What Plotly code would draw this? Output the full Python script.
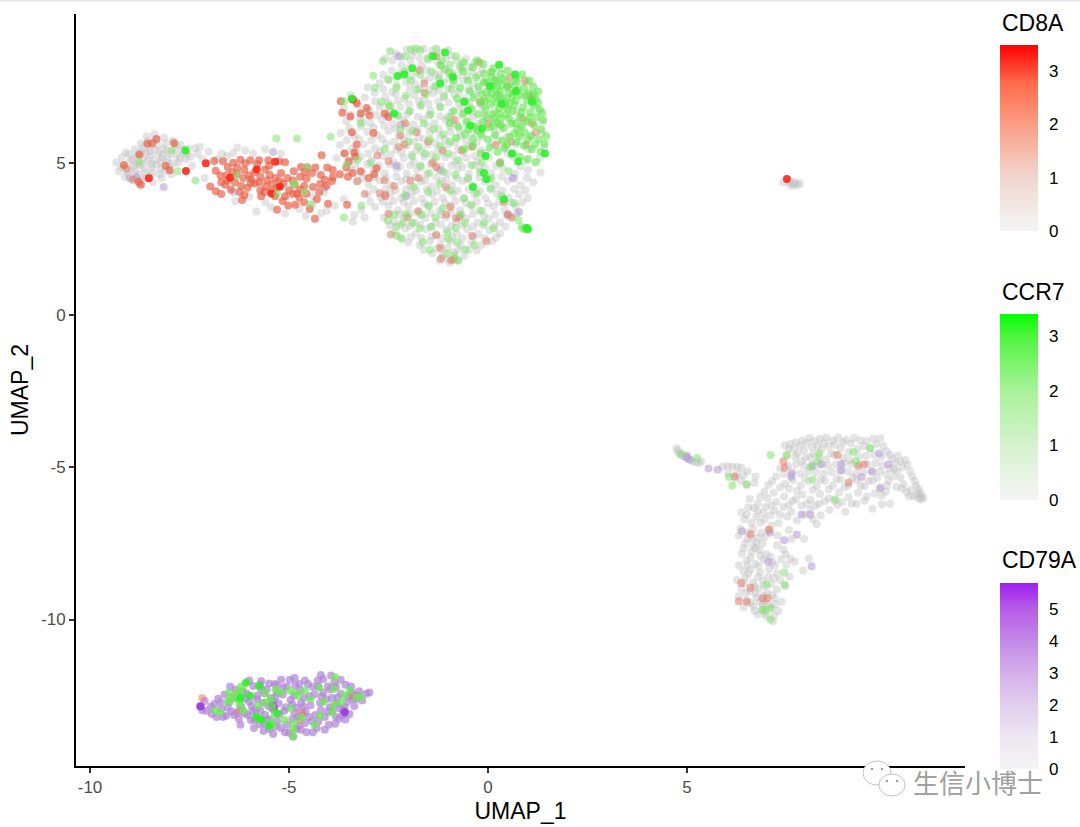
import plotly.graph_objects as go

grey_main = [
(-2.05,8.72),(-1.85,8.66),(-1.62,8.74),(-1.4,8.69),(-1.18,8.62),(-1.0,8.7),
(-2.58,8.42),(-2.4,8.36),(-2.2,8.47),(-1.95,8.33),(-1.72,8.44),(-1.5,8.38),(-1.25,8.3),(-1.05,8.43),(-0.8,8.35),(-0.55,8.41),(-0.33,8.28),
(-2.42,8.02),(-2.2,7.95),(-2.0,8.08),(-1.78,7.98),(-1.55,8.05),(-1.33,7.92),(-1.1,8.03),(-0.9,7.96),(-0.65,8.08),(-0.4,7.98),(-0.15,8.06),(0.1,8.0),(0.35,8.1),
(-2.72,7.62),(-2.5,7.7),(-2.3,7.55),(-2.05,7.66),(-1.83,7.58),(-1.6,7.7),(-1.36,7.52),(-1.12,7.64),(-0.88,7.57),(-0.62,7.7),(-0.38,7.55),(-0.1,7.66),(0.14,7.58),(0.42,7.7),(0.68,7.56),(0.98,7.63),
(-3.45,7.22),(-3.1,7.14),(-2.85,7.3),(-2.58,7.16),(-2.32,7.26),(-2.1,7.1),(-1.86,7.22),(-1.6,7.12),(-1.38,7.28),(-1.12,7.14),(-0.85,7.24),(-0.6,7.1),(-0.34,7.26),(-0.08,7.12),(0.2,7.22),(0.48,7.12),(0.75,7.27),(1.12,7.16),
(-3.62,6.8),(-3.25,6.88),(-2.98,6.72),(-2.72,6.84),(-2.45,6.7),(-2.2,6.82),(-1.95,6.68),(-1.7,6.86),(-1.45,6.72),(-1.2,6.82),(-0.92,6.66),(-0.66,6.8),(-0.4,6.7),(-0.12,6.84),(0.16,6.7),(0.44,6.8),(0.72,6.68),(1.22,6.8),
(-3.56,6.36),(-3.22,6.45),(-2.96,6.3),(-2.68,6.42),(-2.4,6.28),(-2.12,6.4),(-1.88,6.26),(-1.62,6.44),(-1.34,6.3),(-1.06,6.4),(-0.8,6.26),(-0.52,6.38),(-0.24,6.28),(0.04,6.42),(0.32,6.26),(0.62,6.36),(0.9,6.28),(1.38,6.36),
(-3.7,5.98),(-3.36,5.88),(-3.04,6.02),(-2.78,5.9),(-2.5,6.04),(-2.24,5.86),(-1.98,5.98),(-1.74,5.84),(-1.46,6.0),(-1.2,5.88),(-0.94,6.02),(-0.68,5.86),(-0.4,5.98),(-0.14,5.84),(0.16,5.96),(0.46,5.84),(0.78,5.98),(1.1,5.86),(1.36,5.98),
(-3.72,5.58),(-3.42,5.46),(-3.12,5.6),(-2.84,5.48),(-2.56,5.62),(-2.3,5.44),(-2.04,5.56),(-1.8,5.42),(-1.52,5.6),(-1.26,5.46),(-1.0,5.6),(-0.74,5.44),(-0.46,5.56),(-0.18,5.42),(0.1,5.58),(0.4,5.46),(0.7,5.6),(1.02,5.44),(1.42,5.52),
(-3.8,5.16),(-3.5,5.04),(-3.2,5.2),(-2.92,5.08),(-2.64,5.22),(-2.36,5.02),(-2.12,5.16),(-1.86,5.02),(-1.6,5.2),(-1.34,5.04),(-1.08,5.18),(-0.82,5.02),(-0.54,5.16),(-0.26,5.04),(0.02,5.18),(0.32,5.04),(0.62,5.2),(0.94,5.06),(1.3,5.16),
(-3.46,4.78),(-3.16,4.68),(-2.88,4.82),(-2.6,4.66),(-2.3,4.8),(-2.04,4.64),(-1.78,4.78),(-1.54,4.62),(-1.28,4.8),(-1.02,4.66),(-0.76,4.8),(-0.48,4.64),(-0.2,4.78),(0.08,4.66),(0.38,4.8),(0.68,4.64),(1.0,4.76),(1.32,4.68),
(-3.3,4.38),(-3.0,4.28),(-2.72,4.42),(-2.44,4.26),(-2.18,4.4),(-1.94,4.24),(-1.68,4.38),(-1.42,4.22),(-1.16,4.4),(-0.9,4.26),(-0.64,4.4),(-0.36,4.24),(-0.08,4.38),(0.2,4.26),(0.5,4.4),(0.82,4.26),(1.14,4.36),
(-3.02,3.96),(-2.7,3.86),(-2.44,4.0),(-2.18,3.84),(-1.92,3.98),(-1.66,3.82),(-1.4,3.96),(-1.14,3.84),(-0.88,3.98),(-0.62,3.82),(-0.34,3.96),(-0.06,3.84),(0.22,3.98),(0.52,3.84),(0.78,3.96),(1.0,3.84),
(-3.18,3.46),(-2.84,3.55),(-2.5,3.6),(-2.26,3.44),(-2.0,3.58),(-1.74,3.42),(-1.48,3.56),(-1.22,3.42),(-0.96,3.58),(-0.7,3.44),(-0.42,3.56),(-0.14,3.42),(0.14,3.56),(0.42,3.44),(0.7,3.56),
(-2.62,3.2),(-2.36,3.08),(-2.1,3.2),(-1.84,3.04),(-1.58,3.18),(-1.32,3.04),(-1.06,3.2),(-0.8,3.06),(-0.54,3.18),(-0.26,3.04),(0.02,3.16),(0.3,3.05),(0.58,3.2),
(-2.34,2.72),(-2.08,2.84),(-1.82,2.68),(-1.56,2.82),(-1.3,2.66),(-1.04,2.8),(-0.78,2.68),(-0.52,2.82),(-0.24,2.66),(0.04,2.78),(0.3,2.68),
(-2.0,2.38),(-1.72,2.3),(-1.46,2.42),(-1.2,2.3),(-0.94,2.42),(-0.68,2.28),(-0.42,2.4),(-0.16,2.3),(0.1,2.42),
(-1.4,2.02),(-1.14,1.96),(-0.86,2.06),(-0.6,1.94),(-1.22,1.78),(-0.74,1.78),
(7.42,4.36),(7.56,4.32),(7.64,4.24),(7.72,4.36),(7.78,4.26),(7.68,4.3),(7.84,4.32),(7.6,4.4),
# second reading, between the first
(-2.31,8.58),(-2.17,8.21),(-1.91,8.53),(-1.67,8.21),(-1.44,8.51),(-1.16,8.17),(-0.92,8.53),(-0.69,8.22),(-0.47,8.16),
(-2.63,7.88),(-2.31,7.81),(-1.91,7.83),(-1.46,7.79),(-1.22,7.87),(-0.98,7.76),(-0.76,7.87),(-0.52,7.83),(-0.24,7.88),(0.23,7.81),
(-3.02,7.47),(-2.63,7.41),(-2.41,7.33),(-1.97,7.43),(-1.71,7.44),(-1.49,7.39),(-1.24,7.37),(-1.01,7.42),(-0.73,7.33),(-0.49,7.42),(-0.22,7.38),(0.03,7.41),
(-3.31,7.03),(-3.17,6.63),(-2.84,7.02),(-2.51,6.97),(-2.27,7.04),(-1.98,6.92),(-1.74,7.03),(-1.49,6.94),(-1.25,7.01),(-0.99,6.97),(-0.73,6.94),(-0.47,6.98),(-0.21,6.92),
(-3.43,6.58),(-2.81,6.57),(-2.54,6.58),(-2.27,6.53),(-2.03,6.59),(-1.76,6.51),(-1.49,6.57),(-1.2,6.53),(-0.93,6.47),(-0.66,6.54),(-0.38,6.5),(-0.09,6.57),
(-3.49,6.13),(-3.19,6.19),(-2.87,6.16),(-2.61,6.22),(-2.33,6.12),(-2.06,6.19),(-1.77,6.09),(-1.51,6.21),(-1.24,6.11),(-0.97,6.2),(-0.71,6.07),(-0.27,6.11),(0.3,6.1),
(-3.55,5.74),(-3.24,5.78),(-2.93,5.73),(-2.66,5.79),(-2.37,5.69),(-2.11,5.77),(-1.86,5.68),(-1.6,5.78),(-1.33,5.66),(-1.08,5.76),(-0.83,5.66),(-0.56,5.72),(-0.28,5.68),(0.26,5.72),
(-3.62,5.32),(-3.3,5.36),(-3.01,5.31),(-2.71,5.38),(-2.44,5.27),(-2.17,5.34),(-1.93,5.26),(-1.66,5.38),(-1.41,5.26),(-1.14,5.36),(-0.88,5.24),(-0.61,5.34),(-0.33,5.22),(-0.06,5.33),(0.5,5.3),
(-3.34,4.93),(-3.03,4.96),(-2.74,4.9),(-2.47,4.94),(-2.2,4.88),(-1.96,4.92),(-1.68,4.86),(-1.44,4.94),(-1.18,4.88),(-0.92,4.92),(-0.64,4.86),(-0.35,4.92),(-0.07,4.84),(0.2,4.9),(0.82,4.88),
(-3.14,4.49),(-2.85,4.52),(-2.56,4.5),(-2.3,4.54),(-2.06,4.46),(-1.82,4.52),(-1.58,4.42),(-1.3,4.52),(-1.04,4.46),(-0.78,4.5),(-0.5,4.44),(-0.22,4.52),(0.06,4.44),(0.34,4.54),(0.66,4.48),(0.98,4.5),
(-2.86,4.12),(-2.58,4.14),(-2.32,4.1),(-2.06,4.14),(-1.8,4.08),(-1.54,4.12),(-1.28,4.06),(-1.02,4.14),(-0.76,4.08),(-0.48,4.12),(-0.2,4.06),(0.08,4.12),(0.36,4.08),(0.66,4.14),(0.94,4.1),
(-3.36,3.28),(-2.96,3.72),(-2.64,3.72),(-2.38,3.74),(-2.12,3.7),(-1.86,3.74),(-1.6,3.66),(-1.34,3.72),(-1.08,3.68),(-0.82,3.74),(-0.56,3.68),(-0.28,3.72),(0.0,3.66),(0.28,3.72),(0.58,3.68),(0.86,3.7),
(-2.48,3.34),(-2.22,3.3),(-1.96,3.34),(-1.7,3.28),(-1.44,3.34),(-1.18,3.28),(-0.92,3.34),(-0.66,3.3),(-0.38,3.32),(-0.1,3.26),(0.18,3.3),(0.46,3.26),(0.72,3.34),
(-2.46,2.94),(-2.2,2.96),(-1.96,2.92),(-1.7,2.96),(-1.44,2.9),(-1.18,2.96),(-0.92,2.92),(-0.66,2.94),(-0.38,2.9),(-0.12,2.94),(0.16,2.92),(0.44,2.9),
(-2.2,2.56),(-1.94,2.56),(-1.68,2.54),(-1.42,2.58),(-1.16,2.52),(-0.9,2.58),(-0.64,2.52),(-0.36,2.56),(-0.08,2.52),(0.2,2.54),
(-1.62,2.14),(-1.28,2.18),(-1.02,2.2),(-0.74,2.16),(-0.48,2.14),(-0.28,2.12),(-1.0,1.84),(-0.96,1.72),
]
grey_left = [
(-9.34,5.02),(-9.28,4.72),(-9.2,5.18),(-9.14,4.9),(-9.12,4.54),(-9.02,5.28),(-9.0,5.04),(-8.98,4.76),(-8.94,4.44),(-8.88,5.44),(-8.84,5.2),(-8.82,4.96),
(-8.8,4.62),(-8.76,4.3),(-8.72,5.62),(-8.7,5.36),(-8.66,5.1),(-8.64,4.82),(-8.6,4.52),(-8.58,5.86),(-8.54,5.72),(-8.52,5.5),(-8.48,5.24),(-8.46,4.96),
(-8.44,4.68),(-8.42,4.36),(-8.38,5.94),(-8.34,5.76),(-8.3,5.56),(-8.28,5.3),(-8.24,5.04),(-8.22,4.8),(-8.2,4.5),(-8.14,5.82),(-8.1,5.64),(-8.08,5.4),
(-8.04,5.14),(-8.0,4.88),(-7.96,4.62),(-7.92,5.72),(-7.86,5.46),(-7.82,5.24),(-7.78,5.0),(-7.72,5.58),(-7.66,5.32),(-7.6,5.12),(-7.54,5.46),(-7.48,5.2),
(-7.44,4.9),(-7.36,5.48),(-7.3,5.3),(-7.24,5.52),(-7.18,5.12),(-9.1,5.34),(-8.9,4.9),(-8.6,5.3),(-8.4,5.1),(-8.18,5.26),(-8.5,4.58),(-8.7,4.46),
(-7.12,4.5),(-7.02,5.36),(-6.8,5.12),(-6.68,5.3),(-6.4,5.32),(-6.3,5.5),(-6.1,5.4),(-5.6,5.44),(-5.2,5.3),(-5.0,3.9),(-6.0,3.88),(-6.35,3.74),
(-4.74,3.48),(-4.4,3.9),(-4.2,3.34),(-3.62,3.8),(-3.1,3.2),(-3.4,3.06),(-3.14,6.34),(-3.02,6.7),(-4.12,4.02),(-4.42,3.6),(-5.6,3.7),(-5.34,3.96),
(-9.22,4.84),(-9.06,4.68),(-8.94,5.12),(-8.86,4.72),(-8.78,5.3),(-8.74,4.92),(-8.68,5.5),(-8.62,4.68),(-8.56,5.06),(-8.5,5.38),(-8.44,4.84),(-8.36,5.42),
(-8.32,4.94),(-8.26,4.62),(-8.2,5.16),(-8.16,5.46),(-8.12,4.72),(-8.06,5.02),(-7.98,5.3),(-7.9,4.98),(-7.84,5.6),(-7.74,5.16),(-7.68,5.42),(-7.56,5.3),
(-4.05,3.42),(-3.86,3.6),(-5.1,3.34),(-4.58,3.26),(-5.82,3.4),(-5.46,3.54),(-6.55,5.22),(-5.9,5.3),
]
grey_right = [
(4.74,-4.38),(4.76,-4.46),(4.8,-4.54),(4.84,-4.6),(4.9,-4.64),(4.96,-4.68),(5.02,-4.7),(5.08,-4.76),(5.14,-4.8),(5.22,-4.84),(5.3,-4.86),(5.36,-4.8),
(5.9,-4.98),(6.02,-4.96),(6.14,-4.98),(6.26,-4.98),(6.36,-5.02),(6.04,-5.2),(6.26,-5.22),(6.42,-5.26),(6.52,-5.14),(6.2,-5.36),(6.36,-5.44),(6.5,-5.58),
(6.72,-5.3),(6.7,-5.52),(7.46,-4.28),(7.52,-4.62),(7.6,-4.24),(7.68,-4.42),(7.74,-4.18),(7.78,-4.56),(7.84,-4.3),(7.9,-4.12),(7.94,-4.44),(7.98,-4.68),
(8.02,-4.2),(8.08,-4.04),(8.14,-4.34),(8.18,-4.56),(8.22,-4.14),(8.28,-4.3),(8.34,-4.06),(8.38,-4.42),(8.44,-4.2),(8.5,-4.02),(8.56,-4.3),(8.62,-4.54),
(8.66,-4.12),(8.72,-4.26),(8.8,-4.02),(8.86,-4.38),(8.92,-4.18),(9.0,-4.1),(9.06,-4.5),(9.12,-4.22),(9.2,-4.04),(9.28,-4.4),(9.36,-4.12),(9.44,-4.3),
(9.52,-4.14),(9.6,-4.38),(9.68,-4.06),(9.76,-4.24),(9.86,-4.04),(9.94,-4.3),(10.02,-4.48),(10.1,-4.6),(10.16,-4.72),(10.24,-4.86),(10.3,-4.62),(10.36,-4.8),
(10.42,-5.0),(10.48,-4.76),(10.54,-4.92),(10.6,-5.12),(10.66,-5.3),(10.72,-5.46),(10.76,-5.6),(10.82,-5.72),(10.86,-5.84),(10.9,-5.94),(10.94,-6.02),(10.78,-5.88),
(10.7,-5.96),(10.82,-6.02),(10.62,-5.74),(10.52,-5.82),(10.44,-5.56),(10.36,-5.34),(10.28,-5.12),(10.18,-5.3),(10.1,-5.04),(10.0,-5.22),(9.92,-4.94),(9.84,-5.14),
(9.74,-4.86),(9.64,-5.1),(9.54,-4.9),(9.44,-5.16),(9.34,-4.92),(9.24,-5.2),(9.14,-4.9),(9.04,-5.14),(8.94,-4.88),(8.84,-5.12),(8.74,-4.9),(8.64,-5.16),
(8.54,-4.94),(8.44,-5.2),(8.34,-4.92),(8.24,-5.16),(8.14,-4.9),(8.04,-5.14),(7.94,-4.94),(7.84,-5.2),(7.74,-4.9),(7.64,-5.14),(7.54,-4.96),(7.44,-5.22),
(7.34,-5.04),(7.24,-5.3),(7.14,-5.46),(7.04,-5.58),(6.94,-5.8),(7.46,-5.54),(7.66,-5.42),(7.86,-5.6),(8.06,-5.46),(8.26,-5.62),(8.46,-5.44),(8.66,-5.6),
(8.86,-5.4),(9.06,-5.58),(9.26,-5.42),(9.46,-5.62),(9.66,-5.44),(9.86,-5.66),(10.06,-5.44),(10.26,-5.64),(10.0,-5.8),(9.72,-5.86),(9.52,-5.96),(9.3,-5.84),
(9.06,-5.98),(8.82,-5.82),(8.56,-6.02),(8.34,-5.88),(8.1,-6.06),(7.9,-5.9),(7.66,-6.1),(7.44,-5.96),(7.24,-6.14),(7.02,-6.02),(6.78,-6.2),(6.58,-6.04),
(6.54,-6.32),(6.78,-6.44),(6.98,-6.3),(7.2,-6.42),(7.42,-6.3),(7.62,-6.46),(7.88,-6.26),(8.1,-6.4),(8.32,-6.2),(8.58,-6.4),(8.78,-6.24),(8.98,-6.46),
(9.26,-6.2),(9.46,-6.1),(9.66,-6.36),(9.9,-6.22),(10.1,-6.2),(6.36,-6.48),(6.44,-6.7),(6.62,-6.82),(6.74,-6.62),(6.94,-6.72),(7.1,-6.58),(7.3,-6.84),
(7.52,-6.62),(7.76,-6.74),(7.96,-6.56),(8.16,-6.72),(8.36,-6.58),(8.26,-6.86),(6.34,-7.02),(6.52,-7.14),(6.66,-7.02),(6.86,-7.16),(7.04,-7.06),(7.28,-7.24),
(7.56,-7.06),(6.3,-7.24),(6.52,-7.36),(6.78,-7.32),(6.96,-7.28),(7.62,-7.36),(7.94,-7.36),(6.66,-7.58),(6.9,-7.5),(6.42,-7.66),(6.62,-7.78),(6.82,-7.72),
(7.0,-7.86),(7.26,-7.56),(7.42,-7.7),(7.48,-7.86),(7.6,-8.0),(7.36,-8.02),(7.14,-8.12),(6.92,-8.02),(6.72,-8.18),(6.5,-8.06),(6.3,-8.22),(6.42,-8.4),
(6.6,-8.36),(6.84,-8.46),(7.06,-8.34),(7.26,-8.48),(7.5,-8.2),(7.7,-8.1),(7.92,-8.4),(8.06,-8.0),(6.26,-8.7),(6.46,-8.62),(6.66,-8.78),(6.9,-8.72),
(7.12,-8.84),(7.34,-8.7),(7.58,-8.6),(6.36,-8.98),(6.58,-9.06),(6.8,-8.98),(7.02,-9.12),(7.26,-9.02),(7.48,-8.9),(6.3,-9.24),(6.5,-9.36),(6.74,-9.28),
(6.96,-9.4),(7.2,-9.3),(7.38,-9.42),(6.42,-9.6),(6.66,-9.56),(6.88,-9.66),(7.12,-9.6),(7.3,-9.72),(6.78,-9.84),(7.0,-9.9),(7.16,-10.06),(6.9,-9.5),
(7.56,-4.4),(7.72,-4.66),(7.88,-4.8),(8.1,-4.66),(8.32,-4.68),(8.5,-4.74),(8.7,-4.6),(8.92,-4.7),(9.08,-4.76),(9.32,-4.66),(9.5,-4.62),(9.7,-4.6),
(9.88,-4.66),(10.2,-5.06),(10.02,-5.6),(9.78,-5.34),(9.56,-5.44),(9.36,-5.6),(9.16,-5.34),(8.96,-5.66),(8.76,-5.38),(8.56,-5.72),(8.36,-5.4),(8.16,-5.74),
(7.96,-5.36),(7.76,-5.78),(7.56,-5.7),(7.34,-5.66),(7.18,-5.84),(6.84,-5.98),(6.68,-6.34),(6.92,-6.5),(7.12,-6.26),(7.34,-6.56),(7.56,-6.24),(7.74,-6.04),
(8.02,-6.2),(8.22,-6.26),(8.46,-6.12),(8.7,-6.1),(8.9,-6.14),(9.14,-6.2),(9.9,-5.94),(10.4,-5.7),(10.58,-5.96),(10.88,-6.06),(6.5,-6.56),(6.84,-6.82),
(7.12,-6.92),(6.46,-7.5),(6.74,-7.48),(6.6,-7.96),(6.84,-7.9),(7.1,-7.94),(6.52,-8.22),(6.8,-8.24),(7.2,-8.22),(6.54,-8.5),(6.78,-8.6),(7.04,-8.6),
(6.44,-8.82),(6.7,-8.92),(6.94,-8.9),(7.18,-8.64),(6.48,-9.12),(6.72,-9.14),(6.92,-9.22),(7.14,-9.2),(6.6,-9.46),(6.82,-9.42),(7.04,-9.5),(7.22,-9.5),
(6.7,-9.72),(6.96,-9.8),(7.2,-9.86),(6.62,-7.32),(6.72,-7.66),(6.38,-7.84),
]
purple_faint = [
(4.98,-4.66),(5.05,-4.74),(5.54,-5.04),(5.77,-5.08),(7.09,-7.15),(6.38,-7.1),(7.62,-5.32),(7.63,-5.22),(7.44,-7.4),(7.76,-7.22),(7.88,-6.55),(8.1,-6.56),
(9.38,-5.32),(9.65,-5.16),(9.83,-4.54),(10.06,-4.9),(9.85,-5.7),(8.87,-4.9),(8.88,-5.1),(7.04,-8.1),(8.16,-4.96),(8.38,-4.9),(5.0,-4.62),(-8.15,4.2),
(-9.0,4.5),(-8.84,4.52),(-5.4,5.35),(-6.4,4.05),(-4.1,4.18),(-2.25,8.5),(-2.2,6.25),(-1.2,4.75),(0.62,4.5),(0.5,3.3),(0.78,3.38),(-2.05,3.9),(-2.3,4.9),
(8.13,-8.25),
]
purple_cells = [
(-7.24,-12.84),(-7.12,-12.68),(-7.08,-13.0),(-6.94,-13.1),(-6.88,-12.78),(-6.78,-12.6),(-6.7,-12.94),(-6.62,-12.46),(-6.58,-13.16),(-6.5,-12.72),(-6.44,-13.02),(-6.34,-12.3),
(-6.3,-12.56),(-6.26,-13.26),(-6.2,-12.86),(-6.12,-13.08),(-6.06,-12.44),(-6.0,-12.7),(-5.96,-13.3),(-5.9,-12.18),(-5.84,-12.96),(-5.8,-12.5),(-5.74,-13.44),(-5.7,-12.02),
(-5.66,-12.74),(-5.6,-13.14),(-5.56,-12.3),(-5.5,-13.6),(-5.46,-12.58),(-5.42,-12.94),(-5.36,-12.12),(-5.3,-13.34),(-5.26,-12.76),(-5.2,-13.56),(-5.16,-12.46),(-5.12,-13.0),
(-5.06,-12.2),(-5.0,-13.72),(-4.96,-12.64),(-4.92,-13.26),(-4.86,-11.92),(-4.82,-12.9),(-4.76,-13.5),(-4.72,-12.34),(-4.66,-13.1),(-4.62,-12.58),(-4.56,-13.7),(-4.52,-12.12),
(-4.46,-12.82),(-4.42,-13.34),(-4.36,-12.46),(-4.3,-13.56),(-4.26,-12.2),(-4.2,-12.98),(-4.14,-11.96),(-4.1,-13.2),(-4.06,-12.62),(-4.0,-13.46),(-3.96,-12.3),(-3.9,-13.0),
(-3.86,-12.06),(-3.8,-12.76),(-3.74,-13.26),(-3.7,-12.44),(-3.64,-12.96),(-3.58,-12.14),(-3.54,-12.7),(-3.48,-13.1),(-3.42,-12.4),(-3.36,-12.84),(-3.3,-12.6),(-3.24,-12.36),
(-3.16,-12.66),(-3.06,-12.44),(-2.98,-12.4),(-6.82,-13.2),(-6.4,-12.56),(-6.16,-12.36),(-5.94,-12.84),(-5.62,-12.42),(-5.38,-12.7),(-5.14,-12.24),(-4.88,-12.5),(-4.7,-12.74),
(-4.48,-12.52),(-4.22,-12.74),(-4.02,-12.2),(-3.78,-12.56),(-5.72,-13.0),(-5.48,-13.28),(-5.24,-13.1),(-5.04,-13.46),(-4.78,-13.2),(-4.6,-13.4),(-4.34,-13.14),(-4.1,-13.62),
(-3.84,-13.42),(-3.66,-13.14),(-6.04,-13.14),(-6.22,-13.46),(-5.88,-13.56),(-5.64,-13.66),(-5.4,-13.76),(-4.9,-13.84),(-4.4,-13.7),(-4.28,-12.0),(-4.6,-12.0),(-5.5,-12.1),
(-5.2,-11.98),(-6.0,-12.0),(-6.48,-12.2),(-3.44,-12.2),(-3.94,-11.84),(-4.2,-11.82),(-5.8,-12.62),(-4.92,-12.78),(-3.6,-12.88),(-4.14,-12.4),(-3.98,-12.88),(-5.3,-12.4),
(-7.18,-12.98),(-6.96,-12.86),(-3.82,-12.22),(-3.7,-11.98),(-5.56,-13.3),(-4.7,-13.62),
(-6.72,-12.72),(-6.54,-12.9),(-6.38,-13.14),(-6.1,-12.6),(-5.92,-13.02),(-5.7,-12.3),(-5.52,-12.84),(-5.34,-12.54),(-5.08,-12.88),(-4.84,-12.16),(-4.64,-12.86),(-4.4,-12.22),
(-4.18,-12.54),(-3.92,-12.58),(-3.72,-12.92),(-3.5,-12.54),(-5.86,-13.3),(-5.62,-13.42),(-5.34,-13.52),(-5.1,-13.7),(-4.86,-13.06),(-4.58,-13.02),(-4.5,-13.2),(-4.26,-13.34),
(-4.02,-13.02),(-3.82,-13.2),(-4.74,-12.12),(-4.98,-11.98),(-5.3,-12.16),(-5.72,-12.14),(-3.58,-13.28),(-4.82,-13.6),(-3.26,-12.5),(-3.4,-12.62),(-6.66,-13.2),(-6.3,-13.06),
]
purple_dark = [(-7.22,-12.86),(-5.42,-12.82),(-3.6,-13.05),(-5.38,-12.9)]
red_tail = [
(-8.33,5.78),(-8.44,5.64),(-8.56,5.62),(-7.89,5.65),(-9.15,4.93),(-8.78,4.38),(-8.72,4.28),(-8.1,4.9),(-8.0,4.75),(-8.76,5.26),
(-6.88,5.06),(-6.66,5.05),(-6.4,5.0),(-6.22,5.1),(-5.97,5.08),(-5.75,5.08),(-5.52,5.08),(-5.25,5.05),(-6.84,4.74),(-6.72,4.58),(-6.56,4.6),(-6.42,4.7),
(-6.3,4.84),(-6.12,4.76),(-6.0,4.58),(-5.86,4.7),(-5.72,4.54),(-5.6,4.78),(-5.48,4.6),(-5.34,4.5),(-5.2,4.66),(-5.04,4.5),(-4.88,4.72),(-4.72,4.54),
(-4.56,4.48),(-4.42,4.66),(-6.98,4.22),(-6.84,4.06),(-6.6,4.28),(-6.46,4.12),(-6.36,4.36),(-6.2,4.24),(-6.04,4.18),(-5.86,4.32),(-5.72,4.1),(-5.58,4.22),
(-5.44,4.06),(-5.3,4.18),(-5.14,4.32),(-5.0,4.1),(-4.86,4.28),(-4.72,4.12),(-4.56,3.98),(-4.4,4.2),(-4.24,4.04),(-4.06,4.24),(-3.92,4.4),(-5.16,3.74),
(-5.02,3.6),(-4.84,3.62),(-4.62,3.7),(-4.48,3.48),(-4.3,3.8),(-5.3,3.46),(-4.74,3.86),(-5.1,3.9),(-4.9,3.98),(-4.02,3.65),(-4.2,4.6),(-4.04,4.84),
(-3.9,4.76),(-3.72,4.62),(-3.56,4.84),(-3.4,4.66),(-3.2,4.72),(-3.0,4.5),(-2.86,4.62),(-3.52,4.54),(-3.9,4.52),(-4.34,4.84),(-4.54,4.84),
(-4.7,4.86),(-5.35,3.9),(-5.55,4.42),(-5.75,4.36),(-5.95,4.46),(-6.15,4.5),(-6.55,4.42),(-3.54,3.62),(-6.54,4.86),(-6.3,4.62),(-5.5,4.9),(-4.9,4.42),(-4.1,4.44),
(-4.35,3.16),(-6.7,3.97),(-5.7,3.9),(-5.8,4.95),(-6.1,4.98),(-5.96,4.34),(-5.42,4.3),(-5.24,4.4),(-5.62,4.04),(-6.24,4.04),(-6.12,3.94),(-4.62,4.24),(-4.8,3.98),
(-4.22,4.3),(-4.6,4.7),(-6.7,4.36),(-6.18,3.78),(-5.1,5.02),(-4.18,5.25),(-3.7,7.02),(-3.3,6.95),(-3.05,6.8),(-2.98,6.55),(-3.42,6.0),(-3.3,5.6),(-3.36,5.34),
(-3.6,5.3),(-3.5,5.05),(-3.34,5.2),(-2.88,5.98),(-3.2,6.62),(-3.46,6.52),(-2.5,6.5),(-2.6,6.62),(-3.66,6.64),(-2.8,4.82),
]
red_pale = [
(-9.08,4.8),(-8.92,4.45),(-3.28,4.4),(-3.1,3.98),(-2.78,5.24),(-2.5,5.06),(-2.6,4.42),(-2.36,4.24),(-2.72,4.0),(-2.58,3.95),(-2.58,3.9),(-2.5,3.32),
(-2.08,6.3),(-2.2,5.9),(-2.1,5.6),(-2.24,5.52),(-1.8,6.0),(-1.6,7.3),(-1.95,4.42),(-1.74,4.5),(-1.5,5.7),(-1.4,5.0),(-1.3,4.86),
(-1.14,5.4),(-1.06,4.2),(-0.94,3.55),(-0.72,3.22),(-0.8,3.18),(-1.76,3.4),(-2.02,3.2),(-1.3,2.62),(-1.2,2.2),(-2.44,2.64),(-1.18,1.85),(-0.92,1.8),(-0.85,1.84),
(-1.72,8.04),(-1.6,7.6),(-0.84,6.4),(-0.66,5.4),(-0.4,5.52),(-0.2,7.0),(0.0,6.28),(0.2,5.58),(0.58,5.7),(0.96,5.6),(1.2,6.0),(0.86,6.46),
(0.56,7.82),(0.92,7.7),(1.06,7.2),(1.1,6.3),(0.4,3.7),(0.5,3.3),(0.6,3.2),(-0.4,2.6),(-0.04,2.42),(-0.22,8.3),(-1.3,8.5),(0.3,5.0),(-1.05,3.3),
(0.5,7.5),(1.1,7.08),(7.42,-4.8),(7.06,-7.05),(6.6,-7.2),(8.78,-4.6),(9.3,-4.96),(9.06,-5.5),(9.46,-4.9),
(6.9,-9.3),(6.36,-8.8),(6.3,-9.4),(6.5,-9.42),(7.02,-9.3),(6.6,-8.96),(7.45,-5.02),(6.2,-5.3),
(-7.18,-12.58),(-6.25,-13.0),(-4.68,-13.05),(-4.72,-13.3),(-3.4,-12.5),
]
red_bright = [(7.51,4.47),(-7.09,4.98),(-7.59,4.73),(-8.52,4.49),(-5.81,4.78),(-5.35,5.03),(-5.44,3.99),(-5.23,4.21),(-6.48,4.51),(-3.4,7.08)]
green_upper = [
(-0.62,8.0),(-0.38,8.14),(-0.12,8.24),(0.14,8.1),(0.32,7.92),(0.5,8.02),(0.7,7.78),(0.86,7.9),(1.04,7.7),(1.14,7.5),(1.26,7.34),(-0.5,7.7),
(-0.3,7.8),(-0.1,7.64),(0.08,7.82),(0.24,7.66),(0.4,7.76),(0.56,7.58),(0.72,7.66),(0.9,7.46),(1.02,7.3),(1.2,7.1),(-0.7,7.46),(-0.46,7.34),
(-0.24,7.5),(-0.04,7.32),(0.12,7.5),(0.3,7.36),(0.48,7.48),(0.64,7.3),(0.82,7.22),(0.98,7.04),(1.14,6.9),(1.3,6.74),(-0.78,7.1),(-0.56,7.0),
(-0.36,7.14),(-0.18,6.98),(0.02,7.12),(0.2,6.98),(0.36,7.12),(0.54,6.94),(0.7,7.04),(0.88,6.82),(1.06,6.66),(1.22,6.5),(1.38,6.4),(-0.86,6.7),
(-0.62,6.62),(-0.42,6.78),(-0.24,6.6),(-0.06,6.74),(0.12,6.6),(0.28,6.78),(0.46,6.58),(0.62,6.7),(0.8,6.5),(0.98,6.36),(1.16,6.24),(1.34,6.1),
(-0.96,6.3),(-0.74,6.18),(-0.54,6.34),(-0.34,6.18),(-0.14,6.34),(0.04,6.16),(0.22,6.32),(0.4,6.14),(0.58,6.28),(0.74,6.1),(0.92,6.0),(1.08,5.88),
(1.28,5.76),(-0.8,5.82),(-0.58,5.94),(-0.38,5.78),(-0.18,5.92),(0.0,5.76),(0.18,5.9),(0.36,5.72),(0.54,5.86),(0.72,5.68),(0.9,5.56),(1.1,5.44),
(1.32,5.36),(-0.6,5.46),(-0.38,5.56),(-0.18,5.3),(0.04,5.5),(0.24,5.36),(0.42,5.5),(0.62,5.3),(0.8,5.2),(1.0,5.12),(1.2,5.02),(0.3,4.98),
(0.08,7.98),(0.3,7.2),(0.5,6.76),(0.7,6.3),(0.15,6.46),(-0.1,7.0),(0.32,6.46),(0.44,7.0),(0.1,7.28),(-0.02,7.64),(0.22,7.42),(0.6,7.14),
(0.18,7.72),(0.35,7.55),(0.2,7.15),(0.4,6.9),(0.06,6.92),(-0.16,7.24),(0.28,6.62),(0.52,6.46),(0.66,6.9),(0.84,6.66),(1.04,6.48),(0.52,7.28),
(0.74,7.4),(0.96,7.22),(0.32,6.24),(0.14,6.2),(-0.04,6.5),(0.84,6.2),(1.0,5.76),(0.66,5.96),(-0.26,6.04),(-0.5,6.1),(0.48,5.6),(0.8,5.86),
(1.18,5.6),(1.42,5.62),(1.46,5.88),(1.36,6.64),(1.26,6.98),(1.14,7.26),(-0.86,7.7),(-0.98,7.96),(-0.28,8.36),(-0.1,7.92),(-0.62,8.3),(-1.2,8.2),
]
green_pale = [
(-2.64,8.34),(-2.46,8.66),(-2.08,8.5),(-1.94,8.72),(-1.82,8.76),(-1.7,8.7),(-1.52,8.42),(-1.3,8.74),(-1.16,8.36),(-0.96,8.22),(-0.8,8.5),(-0.7,8.14),
(-2.88,7.86),(-2.84,7.46),(-2.5,7.74),(-2.1,8.0),(-1.94,7.7),(-1.7,7.9),(-1.42,8.0),(-1.24,7.76),(-1.08,8.08),(-0.9,7.84),(-2.68,7.0),(-2.44,6.86),
(-2.3,7.46),(-2.06,7.2),(-1.78,7.4),(-1.56,7.26),(-1.32,7.5),(-1.1,7.2),(-0.92,7.44),(-2.26,6.56),(-1.98,6.7),(-1.68,6.9),(-1.44,6.58),(-1.2,6.84),
(-1.0,6.5),(-2.2,6.1),(-1.9,6.04),(-1.62,6.3),(-1.36,6.1),(-1.12,5.94),(-2.0,5.7),(-1.74,5.52),(-1.46,5.76),(-1.2,5.56),(-0.96,5.7),(-1.9,5.2),
(-1.58,5.3),(-1.3,5.2),(-1.0,5.3),(-0.74,5.08),(-0.42,4.92),(-0.16,5.02),(-1.7,4.9),(-1.48,4.66),(-1.12,4.7),(-0.82,4.6),(-0.5,4.5),(-0.2,4.7),
(0.08,4.5),(0.52,4.72),(-2.1,3.94),(-1.86,4.2),(-1.5,4.04),(-1.22,4.3),(-0.94,4.08),(-0.6,3.84),(-0.28,4.0),(0.06,4.16),(0.34,3.9),(0.66,3.68),
(-2.52,3.1),(-2.36,3.3),(-2.3,2.9),(-2.14,3.04),(-2.06,3.32),(-2.3,2.6),(-2.16,2.5),(-1.9,3.02),(-1.72,2.84),(-1.66,3.3),(-1.5,3.6),(-1.42,2.9),
(-1.32,3.2),(-1.14,3.5),(-1.02,2.72),(-0.82,2.86),(-0.7,3.3),(-0.58,3.02),(-0.42,3.62),(-0.2,3.42),(-0.1,3.02),(0.14,2.84),(-1.64,2.4),(-1.46,2.14),
(-1.0,2.5),(-0.78,2.4),(-0.56,2.14),(-0.34,2.3),(-0.84,1.96),(-1.04,2.02),(-0.76,1.8),(0.76,3.12),(0.84,2.9),(0.92,2.82),(1.0,2.86),(0.88,2.84),
(-4.85,4.32),(-2.95,5.0),(-3.55,4.94),(-3.2,6.3),(-2.6,5.44),(-2.5,6.86),(-3.62,7.02),(-4.8,5.8),(-4.9,4.3),(-4.56,4.86),(-6.3,4.6),(-5.3,3.98),
(-4.46,3.64),(-4.6,4.05),(-3.62,3.2),(-3.18,3.6),(-5.32,5.8),(-7.95,5.4),(-8.76,5.02),(-7.8,4.72),(-7.35,4.42),(-3.95,5.85),(-3.28,5.1),
(6.14,-5.6),(6.5,-5.56),(6.05,-5.32),(5.25,-4.7),(4.86,-4.55),(7.1,-4.6),(7.5,-4.6),(8.1,-5.0),(8.32,-4.55),(8.28,-4.8),(9.18,-4.5),(9.24,-4.8),
(9.6,-4.38),(8.16,-5.4),(8.73,-6.05),(7.44,-8.46),(7.45,-8.86),(7.0,-8.85),(6.9,-9.7),(7.1,-9.64),(7.1,-10.0),(6.96,-9.68),
]
green_bottom = [
(-6.5,-12.4),(-6.54,-12.7),(-6.46,-12.56),(-6.36,-12.6),(-6.3,-12.46),(-6.24,-12.66),(-6.24,-12.8),(-6.26,-12.4),(-6.2,-12.34),(-6.2,-12.2),(-5.6,-12.72),(-5.34,-12.3),
(-5.6,-12.4),(-5.22,-12.4),(-6.14,-13.0),(-5.78,-12.82),(-5.42,-12.86),(-5.0,-12.32),(-4.85,-12.4),(-4.96,-12.92),(-4.6,-12.32),(-4.76,-12.5),(-4.46,-12.6),(-4.24,-12.24),
(-3.88,-12.28),(-4.14,-12.7),(-3.88,-12.8),(-3.7,-12.72),(-3.6,-12.5),(-3.3,-12.56),(-3.2,-12.54),(-3.48,-12.32),(-3.84,-11.9),(-5.46,-12.62),(-5.5,-13.38),(-5.36,-13.1),
(-5.12,-13.3),(-5.4,-13.42),(-4.88,-13.38),(-4.9,-13.6),(-4.36,-13.46),(-3.92,-13.06),(-4.22,-13.16),(-4.68,-13.22),(-5.76,-13.26),(-6.74,-13.04),(-6.86,-13.0),(-4.89,-13.84),
]
green_bright = [
(-1.08,8.62),(0.28,8.22),(-2.27,7.85),(-1.38,8.5),(-0.88,7.82),(0.05,7.52),(0.7,7.36),(1.1,7.0),(-0.6,7.0),(-0.5,6.72),(0.34,6.94),(-0.44,6.22),
(-0.15,6.12),(-0.06,5.22),(0.6,5.3),(1.43,5.3),(-0.1,4.66),(-0.04,4.46),(0.4,3.8),(0.97,2.86),(1.0,2.82),(-3.42,7.1),(-2.36,6.62),(-7.6,5.4),
(-1.9,8.1),(-1.2,7.6),(-2.1,7.9),(0.76,5.04),(-0.38,4.2),(0.68,7.9),(-6.08,-12.08),(-5.75,-12.18),(-6.22,-12.58),(-5.98,-12.5),(-5.82,-13.2),(-5.7,-13.28),
(-5.5,-13.5),(-5.3,-13.08),
]

ticks_x = [-10, -5, 0, 5]
ticks_y = [-10, -5, 0, 5]
tick_text = ["-10", "-5", "0", "5"]
cd8a_ticks = [0, 1, 2, 3]
ccr7_ticks = [0, 1, 2, 3]
cd79a_ticks = [0, 1, 2, 3, 4, 5]
cd8a_max, ccr7_max, cd79a_max = 3.49, 3.4, 5.8

cd8a_scale = [[0, "#f5f5f5"], [0.29, "#f1d6cf"], [0.57, "#fa9f86"], [0.8, "#ff6a4b"], [1, "#ff0000"]]
ccr7_scale = [[0, "#f5f5f5"], [0.29, "#d6f2cf"], [0.59, "#a8f298"], [0.88, "#50f540"], [1, "#00ff00"]]
cd79a_scale = [[0, "#f5f5f5"], [0.17, "#eee6f2"], [0.34, "#e2cfee"], [0.52, "#d3aeea"], [0.69, "#c389e8"], [0.86, "#b55ce6"], [1, "#a020f0"]]

# plot box in page pixels, same as the margins below
W, H = 1080, 827
L, R, T, B = 76, 965, 14, 766
FONT = "Liberation Sans"


def px(x):
    return (x - L) / (R - L)


def py(y):
    return (B - y) / (B - T)


def add_cells(fig, cells, color, opacity, size=8):
    fig.add_trace(go.Scatter(x=[c[0] for c in cells], y=[c[1] for c in cells], mode="markers",
                             marker=dict(color=color, opacity=opacity, size=size, line=dict(width=0)),
                             hoverinfo="skip", showlegend=False))


def add_legend(fig, name, scale, top, vmax, ticks, title_y):
    fig.add_trace(go.Scatter(x=[None], y=[None], mode="markers", showlegend=False, hoverinfo="skip",
                             marker=dict(color=[0], colorscale=scale, cmin=0, cmax=vmax, showscale=True,
                                         colorbar=dict(x=px(1000), y=py(top), xanchor="left", yanchor="top", xpad=0, ypad=0,
                                                       thickness=38, thicknessmode="pixels", len=186, lenmode="pixels",
                                                       outlinewidth=0, borderwidth=0,
                                                       tickvals=ticks, ticktext=[str(t) for t in ticks],
                                                       ticks="outside", ticklen=8, tickwidth=1, tickcolor="rgba(0,0,0,0)",
                                                       tickfont=dict(family=FONT, size=17, color="black")))))
    fig.add_annotation(xref="paper", yref="paper", x=px(1000), y=py(title_y), text=name, showarrow=False,
                       xanchor="left", yanchor="middle", font=dict(family=FONT, size=23, color="black"))
    # ggplot draws the bar ticks in white on both sides
    for t in ticks:
        y = top + 186 * (1 - t / vmax)
        for x0, x1 in [(1000, 1008), (1030, 1038)]:
            fig.add_shape(type="line", xref="paper", yref="paper", x0=px(x0), x1=px(x1), y0=py(y), y1=py(y),
                          line=dict(color="rgba(255,255,255,0.7)", width=1))


fig = go.Figure()
add_cells(fig, grey_main + grey_left + grey_right, "rgb(190,190,190)", 0.42)
add_cells(fig, purple_faint, "rgb(185,160,215)", 0.6)
add_cells(fig, purple_cells, "rgb(178,135,215)", 0.72)
add_cells(fig, purple_dark, "rgb(150,50,225)", 0.85)
add_cells(fig, red_pale, "rgb(225,125,105)", 0.55)
add_cells(fig, red_tail, "rgb(232,95,70)", 0.68)
add_cells(fig, red_bright, "rgb(250,40,25)", 0.9)
add_cells(fig, green_pale, "rgb(130,228,110)", 0.55)
add_cells(fig, green_upper, "rgb(100,232,80)", 0.62)
add_cells(fig, green_bottom, "rgb(110,232,90)", 0.75)
add_cells(fig, green_bright, "rgb(45,240,45)", 0.9)

add_legend(fig, "CD8A", cd8a_scale, 45, cd8a_max, cd8a_ticks, 23)
add_legend(fig, "CCR7", ccr7_scale, 314, ccr7_max, ccr7_ticks, 292)
add_legend(fig, "CD79A", cd79a_scale, 583, cd79a_max, cd79a_ticks, 560)

# screenshot edge along the top of the page
fig.add_shape(type="line", xref="paper", yref="paper", x0=px(0), x1=px(W), y0=py(0.5), y1=py(0.5),
              line=dict(color="#e4e6e8", width=2))

# watermark: two chat bubbles and the account name
for cx, cy, rx, ry in [(877, 773, 14, 12), (892, 785, 13, 11)]:
    fig.add_shape(type="circle", xref="paper", yref="paper", x0=px(cx - rx), x1=px(cx + rx), y0=py(cy - ry), y1=py(cy + ry),
                  fillcolor="white", line=dict(color="#c4c4c4", width=1))
for cx, cy in [(872, 769), (882, 769), (887, 781), (897, 781)]:
    fig.add_shape(type="circle", xref="paper", yref="paper", x0=px(cx - 1), x1=px(cx + 1), y0=py(cy - 1), y1=py(cy + 1),
                  fillcolor="#777777", line=dict(width=0))
fig.add_annotation(xref="paper", yref="paper", x=px(978), y=py(781), text="生信小博士", showarrow=False,
                   xanchor="center", yanchor="middle", font=dict(family="Noto Sans CJK SC", size=26, color="#a0a0a0"))

fig.update_xaxes(range=[(L - 488) / 39.8, (R - 488) / 39.8], tickvals=ticks_x, ticktext=tick_text, ticks="outside", ticklen=5, tickwidth=1.5,
                 tickcolor="#333333", showgrid=False, zeroline=False, showline=True, linecolor="black", linewidth=2,
                 tickfont=dict(family=FONT, size=17, color="#4d4d4d"),
                 title=dict(text="UMAP_1", standoff=6, font=dict(family=FONT, size=23, color="black")))
fig.update_yaxes(range=[(315 - B) / 30.45, (315 - T) / 30.45], tickvals=ticks_y, ticktext=tick_text, ticks="outside", ticklen=5, tickwidth=1.5,
                 tickcolor="#333333", showgrid=False, zeroline=False, showline=True, linecolor="black", linewidth=2,
                 tickfont=dict(family=FONT, size=17, color="#4d4d4d"),
                 title=dict(text="UMAP_2", standoff=6, font=dict(family=FONT, size=23, color="black")))
fig.update_layout(width=W, height=H, margin=dict(l=L, r=W - R, t=T, b=H - B, autoexpand=False),
                  plot_bgcolor="white", paper_bgcolor="white", showlegend=False)

fig.write_html("out.html", config={"displayModeBar": False},
               post_script="document.body.style.margin='0';document.body.style.overflow='hidden';")
